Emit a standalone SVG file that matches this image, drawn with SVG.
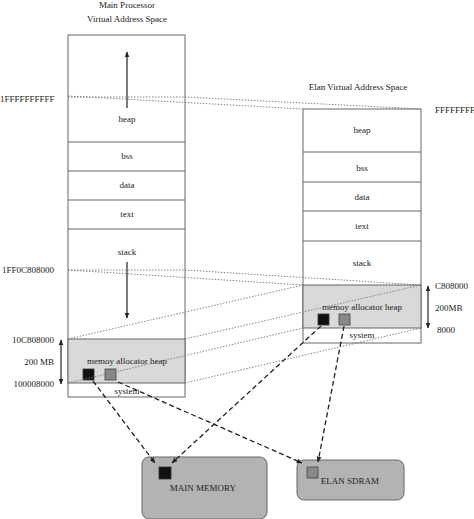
<svg xmlns="http://www.w3.org/2000/svg" width="474" height="519" viewBox="0 0 474 519">
<defs>
<style>
text{font-family:"Liberation Serif","Times New Roman",serif;font-size:9px;fill:#222}
.c{text-anchor:middle}
.e{text-anchor:end}
.box{fill:#fff;stroke:#666;stroke-width:1}
.heapfill{fill:#d9d9d9;stroke:#666;stroke-width:1}
.sep{stroke:#666;stroke-width:1}
.dot{stroke:#777;stroke-width:0.9;stroke-dasharray:1.5,1.5;fill:none}
.dash{stroke:#222;stroke-width:1.3;stroke-dasharray:5,3;fill:none}
.arr{stroke:#222;stroke-width:1.2;fill:none}
.mem{fill:#b3b3b3;stroke:#666;stroke-width:1}
</style>
<marker id="ah" viewBox="0 0 10 10" refX="9" refY="5" markerWidth="6" markerHeight="6" orient="auto-start-reverse" markerUnits="userSpaceOnUse">
<path d="M0,1 L10,5 L0,9 z" fill="#222"/>
</marker>
</defs>

<g id="titles">
<text class="c" x="127" y="8">Main Processor</text>
<text class="c" x="127" y="22">Virtual Address Space</text>
<text class="c" x="358" y="90">Elan Virtual Address Space</text>
</g>

<g id="main-space">
<rect class="box" x="68" y="35" width="117" height="362"/>
<rect class="heapfill" x="68" y="339" width="117" height="44"/>
<line class="sep" x1="68" y1="142" x2="185" y2="142"/>
<line class="sep" x1="68" y1="171" x2="185" y2="171"/>
<line class="sep" x1="68" y1="200" x2="185" y2="200"/>
<line class="sep" x1="68" y1="229" x2="185" y2="229"/>
<text class="c" x="127" y="122">heap</text>
<text class="c" x="127" y="159">bss</text>
<text class="c" x="127" y="188">data</text>
<text class="c" x="127" y="217">text</text>
<text class="c" x="127" y="255">stack</text>
<text class="c" x="127" y="364">memoy allocator heap</text>
<text class="c" x="127" y="394">system</text>
<line class="arr" x1="127" y1="108" x2="127" y2="52" marker-end="url(#ah)"/>
<line class="arr" x1="127" y1="262" x2="127" y2="318" marker-end="url(#ah)"/>
<rect x="83" y="369" width="11" height="11" fill="#111" stroke="#333" stroke-width="0.8"/>
<rect x="105" y="369" width="11" height="11" fill="#888" stroke="#444" stroke-width="0.8"/>
</g>

<g id="main-labels">
<text x="0" y="102">1FFFFFFFFFF</text>
<text x="2" y="273">1FF0C808000</text>
<text class="e" x="54" y="343">10C808000</text>
<text class="e" x="54" y="365">200 MB</text>
<text class="e" x="54" y="387">100008000</text>
<line class="arr" x1="61" y1="340" x2="61" y2="384" marker-start="url(#ah)" marker-end="url(#ah)"/>
</g>

<g id="elan-space">
<rect class="box" x="303" y="109" width="118" height="234"/>
<rect class="heapfill" x="303" y="285" width="118" height="43"/>
<line class="sep" x1="303" y1="152" x2="421" y2="152"/>
<line class="sep" x1="303" y1="182" x2="421" y2="182"/>
<line class="sep" x1="303" y1="211" x2="421" y2="211"/>
<line class="sep" x1="303" y1="241" x2="421" y2="241"/>
<text class="c" x="362" y="133">heap</text>
<text class="c" x="362" y="171">bss</text>
<text class="c" x="362" y="200">data</text>
<text class="c" x="362" y="229">text</text>
<text class="c" x="362" y="266">stack</text>
<text class="c" x="362" y="310">memoy allocator heap</text>
<text class="c" x="362" y="338">system</text>
<rect x="318" y="314" width="11" height="11" fill="#111" stroke="#333" stroke-width="0.8"/>
<rect x="339" y="314" width="11" height="11" fill="#888" stroke="#444" stroke-width="0.8"/>
</g>

<g id="elan-labels">
<text x="435" y="113">FFFFFFFF</text>
<text x="435" y="289">C808000</text>
<text x="435" y="311">200MB</text>
<text x="437" y="333">8000</text>
<line class="arr" x1="428" y1="286" x2="428" y2="328" marker-start="url(#ah)" marker-end="url(#ah)"/>
</g>

<g id="main-memory">
<rect class="mem" x="142" y="457" width="125" height="62" rx="7"/>
<rect x="159" y="467" width="12" height="12" fill="#111" stroke="#333" stroke-width="0.8"/>
<text class="c" x="203" y="491">MAIN MEMORY</text>
</g>

<g id="elan-sdram">
<rect class="mem" x="297" y="460" width="107" height="40" rx="7"/>
<rect x="307" y="467" width="11" height="11" fill="#888" stroke="#444" stroke-width="0.8"/>
<text class="c" x="350" y="484">ELAN SDRAM</text>
</g>

<g id="connectors">
<line class="dot" x1="68" y1="97" x2="185" y2="97"/>
<line class="dot" x1="68" y1="96" x2="303" y2="109"/>
<line class="dot" x1="185" y1="97" x2="421" y2="109"/>
<line class="dot" x1="68" y1="270" x2="185" y2="270"/>
<line class="dot" x1="68" y1="270" x2="303" y2="285"/>
<line class="dot" x1="185" y1="270" x2="421" y2="285"/>
<line class="dot" x1="68" y1="339" x2="303" y2="285"/>
<line class="dot" x1="185" y1="339" x2="421" y2="285"/>
<line class="dot" x1="68" y1="383" x2="303" y2="328"/>
<line class="dot" x1="185" y1="383" x2="421" y2="328"/>
<line class="dash" x1="93" y1="381" x2="155" y2="463" marker-end="url(#ah)"/>
<line class="dash" x1="118" y1="382" x2="302" y2="463" marker-end="url(#ah)"/>
<line class="dash" x1="321" y1="326" x2="172" y2="463" marker-end="url(#ah)"/>
<line class="dash" x1="344" y1="326" x2="318" y2="462" marker-end="url(#ah)"/>
</g>
</svg>
